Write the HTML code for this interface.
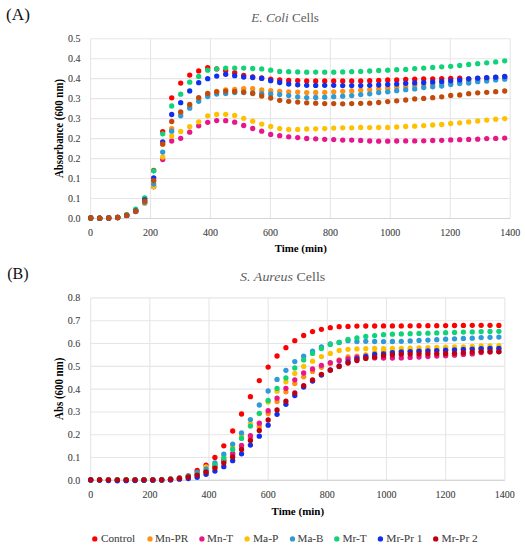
<!DOCTYPE html><html><head><meta charset="utf-8"><style>html,body{margin:0;padding:0;background:#fff;}svg{display:block;}text{font-family:"Liberation Serif",serif;}</style></head><body>
<svg width="525" height="550" viewBox="0 0 525 550">
<rect width="525" height="550" fill="#fff"/>
<text x="6.10" y="20.4" font-size="17" fill="#111" textLength="23.92" lengthAdjust="spacingAndGlyphs" >(A)</text>
<text x="251.32" y="21.8" font-size="12.5" fill="#606060" textLength="67.68" lengthAdjust="spacingAndGlyphs" ><tspan font-style="italic">E. Coli</tspan> Cells</text>
<path d="M90.6 38.70H510.2M90.6 58.68H510.2M90.6 78.66H510.2M90.6 98.64H510.2M90.6 118.62H510.2M90.6 138.60H510.2M90.6 158.58H510.2M90.6 178.56H510.2M90.6 198.54H510.2M90.6 218.52H510.2M90.60 38.70V218.52M150.54 38.70V218.52M210.49 38.70V218.52M270.43 38.70V218.52M330.37 38.70V218.52M390.31 38.70V218.52M450.26 38.70V218.52M510.20 38.70V218.52" stroke="#E6E6E6" stroke-width="1.1" fill="none"/>
<path d="M90.6 218.52H510.2" stroke="#D6D6D6" stroke-width="1.1"/>
<text x="80.6" y="42.1" font-size="10" fill="#404040" stroke="#404040" stroke-width="0.08" text-anchor="end">0.5</text>
<text x="80.6" y="62.1" font-size="10" fill="#404040" stroke="#404040" stroke-width="0.08" text-anchor="end">0.4</text>
<text x="80.6" y="82.1" font-size="10" fill="#404040" stroke="#404040" stroke-width="0.08" text-anchor="end">0.4</text>
<text x="80.6" y="102.0" font-size="10" fill="#404040" stroke="#404040" stroke-width="0.08" text-anchor="end">0.3</text>
<text x="80.6" y="122.0" font-size="10" fill="#404040" stroke="#404040" stroke-width="0.08" text-anchor="end">0.3</text>
<text x="80.6" y="142.0" font-size="10" fill="#404040" stroke="#404040" stroke-width="0.08" text-anchor="end">0.2</text>
<text x="80.6" y="162.0" font-size="10" fill="#404040" stroke="#404040" stroke-width="0.08" text-anchor="end">0.2</text>
<text x="80.6" y="182.0" font-size="10" fill="#404040" stroke="#404040" stroke-width="0.08" text-anchor="end">0.1</text>
<text x="80.6" y="201.9" font-size="10" fill="#404040" stroke="#404040" stroke-width="0.08" text-anchor="end">0.1</text>
<text x="80.6" y="221.9" font-size="10" fill="#404040" stroke="#404040" stroke-width="0.08" text-anchor="end">0.0</text>
<text x="90.6" y="236" font-size="10" fill="#404040" stroke="#404040" stroke-width="0.08" text-anchor="middle">0</text>
<text x="150.5" y="236" font-size="10" fill="#404040" stroke="#404040" stroke-width="0.08" text-anchor="middle">200</text>
<text x="210.5" y="236" font-size="10" fill="#404040" stroke="#404040" stroke-width="0.08" text-anchor="middle">400</text>
<text x="270.4" y="236" font-size="10" fill="#404040" stroke="#404040" stroke-width="0.08" text-anchor="middle">600</text>
<text x="330.4" y="236" font-size="10" fill="#404040" stroke="#404040" stroke-width="0.08" text-anchor="middle">800</text>
<text x="390.3" y="236" font-size="10" fill="#404040" stroke="#404040" stroke-width="0.08" text-anchor="middle">1000</text>
<text x="450.3" y="236" font-size="10" fill="#404040" stroke="#404040" stroke-width="0.08" text-anchor="middle">1200</text>
<text x="510.2" y="236" font-size="10" fill="#404040" stroke="#404040" stroke-width="0.08" text-anchor="middle">1400</text>
<text transform="translate(63.00,178.12) rotate(-90)" x="0" y="0" font-size="11.6" font-weight="bold" fill="#000" textLength="99.12" lengthAdjust="spacingAndGlyphs">Absorbance (600 nm)</text>
<text x="274.66" y="252.0" font-size="11" fill="#000" font-weight="bold" textLength="52.12" lengthAdjust="spacingAndGlyphs" >Time (min)</text>
<g fill="#FF0000"><circle cx="90.70" cy="218.00" r="2.65"/><circle cx="99.70" cy="218.20" r="2.65"/><circle cx="108.70" cy="218.00" r="2.65"/><circle cx="117.70" cy="217.50" r="2.65"/><circle cx="126.70" cy="215.00" r="2.65"/><circle cx="135.70" cy="210.50" r="2.65"/><circle cx="144.70" cy="198.30" r="2.65"/><circle cx="153.70" cy="170.50" r="2.65"/><circle cx="162.70" cy="131.60" r="2.65"/><circle cx="171.70" cy="97.80" r="2.65"/><circle cx="180.70" cy="83.10" r="2.65"/><circle cx="189.70" cy="75.10" r="2.65"/><circle cx="198.70" cy="70.90" r="2.65"/><circle cx="207.70" cy="67.70" r="2.65"/><circle cx="216.70" cy="68.90" r="2.65"/><circle cx="225.70" cy="70.70" r="2.65"/><circle cx="234.70" cy="72.70" r="2.65"/><circle cx="243.70" cy="75.40" r="2.65"/><circle cx="252.70" cy="77.00" r="2.65"/><circle cx="261.70" cy="78.00" r="2.65"/><circle cx="270.70" cy="79.20" r="2.65"/><circle cx="279.70" cy="79.90" r="2.65"/><circle cx="288.70" cy="80.40" r="2.65"/><circle cx="297.70" cy="80.60" r="2.65"/><circle cx="306.70" cy="80.90" r="2.65"/><circle cx="315.70" cy="80.90" r="2.65"/><circle cx="324.70" cy="80.90" r="2.65"/><circle cx="333.70" cy="80.90" r="2.65"/><circle cx="342.70" cy="80.90" r="2.65"/><circle cx="351.70" cy="80.90" r="2.65"/><circle cx="360.70" cy="80.90" r="2.65"/><circle cx="369.70" cy="80.70" r="2.65"/><circle cx="378.70" cy="80.40" r="2.65"/><circle cx="387.70" cy="80.00" r="2.65"/><circle cx="396.70" cy="79.90" r="2.65"/><circle cx="405.70" cy="79.40" r="2.65"/><circle cx="414.70" cy="79.20" r="2.65"/><circle cx="423.70" cy="78.90" r="2.65"/><circle cx="432.70" cy="78.80" r="2.65"/><circle cx="441.70" cy="78.60" r="2.65"/><circle cx="450.70" cy="78.30" r="2.65"/><circle cx="459.70" cy="78.10" r="2.65"/><circle cx="468.70" cy="79.00" r="2.65"/><circle cx="477.70" cy="78.50" r="2.65"/><circle cx="486.70" cy="78.00" r="2.65"/><circle cx="495.70" cy="77.50" r="2.65"/><circle cx="504.70" cy="76.80" r="2.65"/></g>
<g fill="#FF9010"><circle cx="90.70" cy="218.00" r="2.65"/><circle cx="99.70" cy="218.20" r="2.65"/><circle cx="108.70" cy="218.00" r="2.65"/><circle cx="117.70" cy="217.50" r="2.65"/><circle cx="126.70" cy="215.30" r="2.65"/><circle cx="135.70" cy="211.20" r="2.65"/><circle cx="144.70" cy="201.50" r="2.65"/><circle cx="153.70" cy="181.00" r="2.65"/><circle cx="162.70" cy="144.30" r="2.65"/><circle cx="171.70" cy="128.70" r="2.65"/><circle cx="180.70" cy="113.50" r="2.65"/><circle cx="189.70" cy="106.00" r="2.65"/><circle cx="198.70" cy="99.00" r="2.65"/><circle cx="207.70" cy="94.50" r="2.65"/><circle cx="216.70" cy="91.50" r="2.65"/><circle cx="225.70" cy="90.00" r="2.65"/><circle cx="234.70" cy="89.50" r="2.65"/><circle cx="243.70" cy="88.70" r="2.65"/><circle cx="252.70" cy="88.70" r="2.65"/><circle cx="261.70" cy="89.90" r="2.65"/><circle cx="270.70" cy="90.70" r="2.65"/><circle cx="279.70" cy="91.30" r="2.65"/><circle cx="288.70" cy="91.80" r="2.65"/><circle cx="297.70" cy="92.10" r="2.65"/><circle cx="306.70" cy="92.60" r="2.65"/><circle cx="315.70" cy="92.50" r="2.65"/><circle cx="324.70" cy="92.30" r="2.65"/><circle cx="333.70" cy="91.80" r="2.65"/><circle cx="342.70" cy="91.30" r="2.65"/><circle cx="351.70" cy="91.00" r="2.65"/><circle cx="360.70" cy="90.20" r="2.65"/><circle cx="369.70" cy="89.80" r="2.65"/><circle cx="378.70" cy="89.00" r="2.65"/><circle cx="387.70" cy="88.20" r="2.65"/><circle cx="396.70" cy="87.20" r="2.65"/><circle cx="405.70" cy="86.40" r="2.65"/><circle cx="414.70" cy="85.70" r="2.65"/><circle cx="423.70" cy="85.00" r="2.65"/><circle cx="432.70" cy="84.30" r="2.65"/><circle cx="441.70" cy="83.80" r="2.65"/><circle cx="450.70" cy="83.20" r="2.65"/><circle cx="459.70" cy="82.50" r="2.65"/><circle cx="468.70" cy="81.20" r="2.65"/><circle cx="477.70" cy="80.20" r="2.65"/><circle cx="486.70" cy="79.50" r="2.65"/><circle cx="495.70" cy="78.80" r="2.65"/><circle cx="504.70" cy="78.00" r="2.65"/></g>
<g fill="#E8168B"><circle cx="90.70" cy="218.00" r="2.65"/><circle cx="99.70" cy="218.20" r="2.65"/><circle cx="108.70" cy="218.00" r="2.65"/><circle cx="117.70" cy="217.50" r="2.65"/><circle cx="126.70" cy="215.60" r="2.65"/><circle cx="135.70" cy="211.60" r="2.65"/><circle cx="144.70" cy="203.10" r="2.65"/><circle cx="153.70" cy="186.80" r="2.65"/><circle cx="162.70" cy="159.50" r="2.65"/><circle cx="171.70" cy="141.00" r="2.65"/><circle cx="180.70" cy="138.30" r="2.65"/><circle cx="189.70" cy="132.20" r="2.65"/><circle cx="198.70" cy="125.80" r="2.65"/><circle cx="207.70" cy="122.30" r="2.65"/><circle cx="216.70" cy="120.60" r="2.65"/><circle cx="225.70" cy="120.70" r="2.65"/><circle cx="234.70" cy="122.20" r="2.65"/><circle cx="243.70" cy="125.50" r="2.65"/><circle cx="252.70" cy="128.50" r="2.65"/><circle cx="261.70" cy="131.20" r="2.65"/><circle cx="270.70" cy="134.40" r="2.65"/><circle cx="279.70" cy="135.70" r="2.65"/><circle cx="288.70" cy="136.80" r="2.65"/><circle cx="297.70" cy="137.60" r="2.65"/><circle cx="306.70" cy="138.50" r="2.65"/><circle cx="315.70" cy="138.80" r="2.65"/><circle cx="324.70" cy="139.30" r="2.65"/><circle cx="333.70" cy="139.60" r="2.65"/><circle cx="342.70" cy="140.10" r="2.65"/><circle cx="351.70" cy="140.10" r="2.65"/><circle cx="360.70" cy="140.40" r="2.65"/><circle cx="369.70" cy="141.00" r="2.65"/><circle cx="378.70" cy="141.20" r="2.65"/><circle cx="387.70" cy="141.20" r="2.65"/><circle cx="396.70" cy="141.00" r="2.65"/><circle cx="405.70" cy="140.90" r="2.65"/><circle cx="414.70" cy="140.90" r="2.65"/><circle cx="423.70" cy="140.80" r="2.65"/><circle cx="432.70" cy="140.50" r="2.65"/><circle cx="441.70" cy="140.30" r="2.65"/><circle cx="450.70" cy="139.90" r="2.65"/><circle cx="459.70" cy="139.70" r="2.65"/><circle cx="468.70" cy="139.40" r="2.65"/><circle cx="477.70" cy="139.20" r="2.65"/><circle cx="486.70" cy="138.60" r="2.65"/><circle cx="495.70" cy="138.40" r="2.65"/><circle cx="504.70" cy="138.10" r="2.65"/></g>
<g fill="#FFC000"><circle cx="90.70" cy="218.00" r="2.65"/><circle cx="99.70" cy="218.20" r="2.65"/><circle cx="108.70" cy="218.00" r="2.65"/><circle cx="117.70" cy="217.50" r="2.65"/><circle cx="126.70" cy="215.50" r="2.65"/><circle cx="135.70" cy="211.50" r="2.65"/><circle cx="144.70" cy="203.30" r="2.65"/><circle cx="153.70" cy="186.50" r="2.65"/><circle cx="162.70" cy="157.00" r="2.65"/><circle cx="171.70" cy="136.00" r="2.65"/><circle cx="180.70" cy="131.40" r="2.65"/><circle cx="189.70" cy="126.70" r="2.65"/><circle cx="198.70" cy="121.80" r="2.65"/><circle cx="207.70" cy="115.80" r="2.65"/><circle cx="216.70" cy="114.40" r="2.65"/><circle cx="225.70" cy="114.30" r="2.65"/><circle cx="234.70" cy="115.40" r="2.65"/><circle cx="243.70" cy="118.30" r="2.65"/><circle cx="252.70" cy="121.20" r="2.65"/><circle cx="261.70" cy="124.10" r="2.65"/><circle cx="270.70" cy="126.50" r="2.65"/><circle cx="279.70" cy="128.60" r="2.65"/><circle cx="288.70" cy="129.50" r="2.65"/><circle cx="297.70" cy="129.50" r="2.65"/><circle cx="306.70" cy="129.00" r="2.65"/><circle cx="315.70" cy="128.80" r="2.65"/><circle cx="324.70" cy="128.60" r="2.65"/><circle cx="333.70" cy="128.10" r="2.65"/><circle cx="342.70" cy="127.80" r="2.65"/><circle cx="351.70" cy="127.80" r="2.65"/><circle cx="360.70" cy="127.50" r="2.65"/><circle cx="369.70" cy="127.60" r="2.65"/><circle cx="378.70" cy="127.50" r="2.65"/><circle cx="387.70" cy="127.50" r="2.65"/><circle cx="396.70" cy="127.00" r="2.65"/><circle cx="405.70" cy="126.50" r="2.65"/><circle cx="414.70" cy="126.20" r="2.65"/><circle cx="423.70" cy="125.60" r="2.65"/><circle cx="432.70" cy="125.00" r="2.65"/><circle cx="441.70" cy="124.50" r="2.65"/><circle cx="450.70" cy="123.50" r="2.65"/><circle cx="459.70" cy="122.80" r="2.65"/><circle cx="468.70" cy="121.90" r="2.65"/><circle cx="477.70" cy="121.00" r="2.65"/><circle cx="486.70" cy="120.10" r="2.65"/><circle cx="495.70" cy="119.20" r="2.65"/><circle cx="504.70" cy="118.60" r="2.65"/></g>
<g fill="#2E9BD6"><circle cx="90.70" cy="218.00" r="2.65"/><circle cx="99.70" cy="218.20" r="2.65"/><circle cx="108.70" cy="218.00" r="2.65"/><circle cx="117.70" cy="217.50" r="2.65"/><circle cx="126.70" cy="215.40" r="2.65"/><circle cx="135.70" cy="211.40" r="2.65"/><circle cx="144.70" cy="202.50" r="2.65"/><circle cx="153.70" cy="184.10" r="2.65"/><circle cx="162.70" cy="152.10" r="2.65"/><circle cx="171.70" cy="131.20" r="2.65"/><circle cx="180.70" cy="115.80" r="2.65"/><circle cx="189.70" cy="108.20" r="2.65"/><circle cx="198.70" cy="101.30" r="2.65"/><circle cx="207.70" cy="96.50" r="2.65"/><circle cx="216.70" cy="94.00" r="2.65"/><circle cx="225.70" cy="93.50" r="2.65"/><circle cx="234.70" cy="92.50" r="2.65"/><circle cx="243.70" cy="92.50" r="2.65"/><circle cx="252.70" cy="93.00" r="2.65"/><circle cx="261.70" cy="93.70" r="2.65"/><circle cx="270.70" cy="94.00" r="2.65"/><circle cx="279.70" cy="94.60" r="2.65"/><circle cx="288.70" cy="95.60" r="2.65"/><circle cx="297.70" cy="96.80" r="2.65"/><circle cx="306.70" cy="97.60" r="2.65"/><circle cx="315.70" cy="97.50" r="2.65"/><circle cx="324.70" cy="97.20" r="2.65"/><circle cx="333.70" cy="96.70" r="2.65"/><circle cx="342.70" cy="96.20" r="2.65"/><circle cx="351.70" cy="95.60" r="2.65"/><circle cx="360.70" cy="94.60" r="2.65"/><circle cx="369.70" cy="93.80" r="2.65"/><circle cx="378.70" cy="92.60" r="2.65"/><circle cx="387.70" cy="91.80" r="2.65"/><circle cx="396.70" cy="90.70" r="2.65"/><circle cx="405.70" cy="89.70" r="2.65"/><circle cx="414.70" cy="88.90" r="2.65"/><circle cx="423.70" cy="87.60" r="2.65"/><circle cx="432.70" cy="86.80" r="2.65"/><circle cx="441.70" cy="86.00" r="2.65"/><circle cx="450.70" cy="84.60" r="2.65"/><circle cx="459.70" cy="83.50" r="2.65"/><circle cx="468.70" cy="83.00" r="2.65"/><circle cx="477.70" cy="81.70" r="2.65"/><circle cx="486.70" cy="81.00" r="2.65"/><circle cx="495.70" cy="79.90" r="2.65"/><circle cx="504.70" cy="79.20" r="2.65"/></g>
<g fill="#10D27A"><circle cx="90.70" cy="218.00" r="2.65"/><circle cx="99.70" cy="218.20" r="2.65"/><circle cx="108.70" cy="218.00" r="2.65"/><circle cx="117.70" cy="217.50" r="2.65"/><circle cx="126.70" cy="214.60" r="2.65"/><circle cx="135.70" cy="209.20" r="2.65"/><circle cx="144.70" cy="197.90" r="2.65"/><circle cx="153.70" cy="170.80" r="2.65"/><circle cx="162.70" cy="133.80" r="2.65"/><circle cx="171.70" cy="106.00" r="2.65"/><circle cx="180.70" cy="94.20" r="2.65"/><circle cx="189.70" cy="82.20" r="2.65"/><circle cx="198.70" cy="76.40" r="2.65"/><circle cx="207.70" cy="70.20" r="2.65"/><circle cx="216.70" cy="68.80" r="2.65"/><circle cx="225.70" cy="68.10" r="2.65"/><circle cx="234.70" cy="68.10" r="2.65"/><circle cx="243.70" cy="68.10" r="2.65"/><circle cx="252.70" cy="68.50" r="2.65"/><circle cx="261.70" cy="68.90" r="2.65"/><circle cx="270.70" cy="70.20" r="2.65"/><circle cx="279.70" cy="71.40" r="2.65"/><circle cx="288.70" cy="71.70" r="2.65"/><circle cx="297.70" cy="71.90" r="2.65"/><circle cx="306.70" cy="72.20" r="2.65"/><circle cx="315.70" cy="72.10" r="2.65"/><circle cx="324.70" cy="72.20" r="2.65"/><circle cx="333.70" cy="72.20" r="2.65"/><circle cx="342.70" cy="71.90" r="2.65"/><circle cx="351.70" cy="71.70" r="2.65"/><circle cx="360.70" cy="71.40" r="2.65"/><circle cx="369.70" cy="71.00" r="2.65"/><circle cx="378.70" cy="70.50" r="2.65"/><circle cx="387.70" cy="70.20" r="2.65"/><circle cx="396.70" cy="69.70" r="2.65"/><circle cx="405.70" cy="69.40" r="2.65"/><circle cx="414.70" cy="68.60" r="2.65"/><circle cx="423.70" cy="68.10" r="2.65"/><circle cx="432.70" cy="67.40" r="2.65"/><circle cx="441.70" cy="66.80" r="2.65"/><circle cx="450.70" cy="66.30" r="2.65"/><circle cx="459.70" cy="65.50" r="2.65"/><circle cx="468.70" cy="64.50" r="2.65"/><circle cx="477.70" cy="63.70" r="2.65"/><circle cx="486.70" cy="62.80" r="2.65"/><circle cx="495.70" cy="61.90" r="2.65"/><circle cx="504.70" cy="60.80" r="2.65"/></g>
<g fill="#0F2FF0"><circle cx="90.70" cy="218.00" r="2.65"/><circle cx="99.70" cy="218.20" r="2.65"/><circle cx="108.70" cy="218.00" r="2.65"/><circle cx="117.70" cy="217.50" r="2.65"/><circle cx="126.70" cy="215.40" r="2.65"/><circle cx="135.70" cy="210.80" r="2.65"/><circle cx="144.70" cy="200.00" r="2.65"/><circle cx="153.70" cy="177.80" r="2.65"/><circle cx="162.70" cy="141.80" r="2.65"/><circle cx="171.70" cy="114.50" r="2.65"/><circle cx="180.70" cy="102.70" r="2.65"/><circle cx="189.70" cy="90.90" r="2.65"/><circle cx="198.70" cy="82.70" r="2.65"/><circle cx="207.70" cy="78.70" r="2.65"/><circle cx="216.70" cy="76.10" r="2.65"/><circle cx="225.70" cy="74.30" r="2.65"/><circle cx="234.70" cy="75.70" r="2.65"/><circle cx="243.70" cy="77.10" r="2.65"/><circle cx="252.70" cy="77.50" r="2.65"/><circle cx="261.70" cy="78.40" r="2.65"/><circle cx="270.70" cy="80.70" r="2.65"/><circle cx="279.70" cy="82.50" r="2.65"/><circle cx="288.70" cy="84.00" r="2.65"/><circle cx="297.70" cy="84.80" r="2.65"/><circle cx="306.70" cy="85.30" r="2.65"/><circle cx="315.70" cy="85.40" r="2.65"/><circle cx="324.70" cy="85.30" r="2.65"/><circle cx="333.70" cy="85.30" r="2.65"/><circle cx="342.70" cy="85.60" r="2.65"/><circle cx="351.70" cy="85.60" r="2.65"/><circle cx="360.70" cy="85.60" r="2.65"/><circle cx="369.70" cy="85.30" r="2.65"/><circle cx="378.70" cy="85.00" r="2.65"/><circle cx="387.70" cy="84.50" r="2.65"/><circle cx="396.70" cy="84.10" r="2.65"/><circle cx="405.70" cy="83.30" r="2.65"/><circle cx="414.70" cy="82.90" r="2.65"/><circle cx="423.70" cy="82.60" r="2.65"/><circle cx="432.70" cy="81.90" r="2.65"/><circle cx="441.70" cy="81.40" r="2.65"/><circle cx="450.70" cy="80.80" r="2.65"/><circle cx="459.70" cy="79.90" r="2.65"/><circle cx="468.70" cy="78.80" r="2.65"/><circle cx="477.70" cy="78.20" r="2.65"/><circle cx="486.70" cy="77.70" r="2.65"/><circle cx="495.70" cy="77.20" r="2.65"/><circle cx="504.70" cy="76.50" r="2.65"/></g>
<g fill="#C24B0C"><circle cx="90.70" cy="218.00" r="2.65"/><circle cx="99.70" cy="218.20" r="2.65"/><circle cx="108.70" cy="218.00" r="2.65"/><circle cx="117.70" cy="217.50" r="2.65"/><circle cx="126.70" cy="215.40" r="2.65"/><circle cx="135.70" cy="211.20" r="2.65"/><circle cx="144.70" cy="201.20" r="2.65"/><circle cx="153.70" cy="180.60" r="2.65"/><circle cx="162.70" cy="143.90" r="2.65"/><circle cx="171.70" cy="121.50" r="2.65"/><circle cx="180.70" cy="111.80" r="2.65"/><circle cx="189.70" cy="104.50" r="2.65"/><circle cx="198.70" cy="97.60" r="2.65"/><circle cx="207.70" cy="93.40" r="2.65"/><circle cx="216.70" cy="91.80" r="2.65"/><circle cx="225.70" cy="91.10" r="2.65"/><circle cx="234.70" cy="91.40" r="2.65"/><circle cx="243.70" cy="92.10" r="2.65"/><circle cx="252.70" cy="93.50" r="2.65"/><circle cx="261.70" cy="96.00" r="2.65"/><circle cx="270.70" cy="98.00" r="2.65"/><circle cx="279.70" cy="100.30" r="2.65"/><circle cx="288.70" cy="101.30" r="2.65"/><circle cx="297.70" cy="102.10" r="2.65"/><circle cx="306.70" cy="102.80" r="2.65"/><circle cx="315.70" cy="103.20" r="2.65"/><circle cx="324.70" cy="103.60" r="2.65"/><circle cx="333.70" cy="103.60" r="2.65"/><circle cx="342.70" cy="103.80" r="2.65"/><circle cx="351.70" cy="103.60" r="2.65"/><circle cx="360.70" cy="103.30" r="2.65"/><circle cx="369.70" cy="103.20" r="2.65"/><circle cx="378.70" cy="102.50" r="2.65"/><circle cx="387.70" cy="101.60" r="2.65"/><circle cx="396.70" cy="100.80" r="2.65"/><circle cx="405.70" cy="100.00" r="2.65"/><circle cx="414.70" cy="98.90" r="2.65"/><circle cx="423.70" cy="98.40" r="2.65"/><circle cx="432.70" cy="97.70" r="2.65"/><circle cx="441.70" cy="96.80" r="2.65"/><circle cx="450.70" cy="95.50" r="2.65"/><circle cx="459.70" cy="95.00" r="2.65"/><circle cx="468.70" cy="93.70" r="2.65"/><circle cx="477.70" cy="92.80" r="2.65"/><circle cx="486.70" cy="92.30" r="2.65"/><circle cx="495.70" cy="91.70" r="2.65"/><circle cx="504.70" cy="91.00" r="2.65"/></g>
<text x="7.16" y="278.5" font-size="16.5" fill="#111" textLength="21.42" lengthAdjust="spacingAndGlyphs" >(B)</text>
<text x="240.10" y="280.9" font-size="12.3" fill="#606060" textLength="85.14" lengthAdjust="spacingAndGlyphs" ><tspan font-style="italic">S. Aureus</tspan> Cells</text>
<path d="M90.7 297.90H504.8M90.7 320.71H504.8M90.7 343.52H504.8M90.7 366.33H504.8M90.7 389.14H504.8M90.7 411.95H504.8M90.7 434.76H504.8M90.7 457.57H504.8M90.7 480.38H504.8M90.70 297.90V480.38M149.86 297.90V480.38M209.01 297.90V480.38M268.17 297.90V480.38M327.33 297.90V480.38M386.49 297.90V480.38M445.64 297.90V480.38M504.80 297.90V480.38" stroke="#E6E6E6" stroke-width="1.1" fill="none"/>
<path d="M90.7 480.38H504.8" stroke="#D6D6D6" stroke-width="1.1"/>
<text x="80.3" y="301.3" font-size="10" fill="#404040" stroke="#404040" stroke-width="0.08" text-anchor="end">0.8</text>
<text x="80.3" y="324.1" font-size="10" fill="#404040" stroke="#404040" stroke-width="0.08" text-anchor="end">0.7</text>
<text x="80.3" y="346.9" font-size="10" fill="#404040" stroke="#404040" stroke-width="0.08" text-anchor="end">0.6</text>
<text x="80.3" y="369.7" font-size="10" fill="#404040" stroke="#404040" stroke-width="0.08" text-anchor="end">0.5</text>
<text x="80.3" y="392.5" font-size="10" fill="#404040" stroke="#404040" stroke-width="0.08" text-anchor="end">0.4</text>
<text x="80.3" y="415.3" font-size="10" fill="#404040" stroke="#404040" stroke-width="0.08" text-anchor="end">0.3</text>
<text x="80.3" y="438.2" font-size="10" fill="#404040" stroke="#404040" stroke-width="0.08" text-anchor="end">0.2</text>
<text x="80.3" y="461.0" font-size="10" fill="#404040" stroke="#404040" stroke-width="0.08" text-anchor="end">0.1</text>
<text x="80.3" y="483.8" font-size="10" fill="#404040" stroke="#404040" stroke-width="0.08" text-anchor="end">0.0</text>
<text x="90.7" y="497.8" font-size="10" fill="#404040" stroke="#404040" stroke-width="0.08" text-anchor="middle">0</text>
<text x="149.9" y="497.8" font-size="10" fill="#404040" stroke="#404040" stroke-width="0.08" text-anchor="middle">200</text>
<text x="209.0" y="497.8" font-size="10" fill="#404040" stroke="#404040" stroke-width="0.08" text-anchor="middle">400</text>
<text x="268.2" y="497.8" font-size="10" fill="#404040" stroke="#404040" stroke-width="0.08" text-anchor="middle">600</text>
<text x="327.3" y="497.8" font-size="10" fill="#404040" stroke="#404040" stroke-width="0.08" text-anchor="middle">800</text>
<text x="386.5" y="497.8" font-size="10" fill="#404040" stroke="#404040" stroke-width="0.08" text-anchor="middle">1000</text>
<text x="445.6" y="497.8" font-size="10" fill="#404040" stroke="#404040" stroke-width="0.08" text-anchor="middle">1200</text>
<text x="504.8" y="497.8" font-size="10" fill="#404040" stroke="#404040" stroke-width="0.08" text-anchor="middle">1400</text>
<text transform="translate(62.70,419.90) rotate(-90)" x="0" y="0" font-size="11.6" font-weight="bold" fill="#000" textLength="62.24" lengthAdjust="spacingAndGlyphs">Abs (600 nm)</text>
<text x="271.56" y="514.8" font-size="11" fill="#000" font-weight="bold" textLength="52.56" lengthAdjust="spacingAndGlyphs" >Time (min)</text>
<g fill="#FF0000"><circle cx="90.70" cy="479.80" r="2.65"/><circle cx="99.57" cy="479.80" r="2.65"/><circle cx="108.45" cy="479.80" r="2.65"/><circle cx="117.32" cy="479.80" r="2.65"/><circle cx="126.19" cy="479.80" r="2.65"/><circle cx="135.07" cy="479.80" r="2.65"/><circle cx="143.94" cy="479.80" r="2.65"/><circle cx="152.81" cy="479.80" r="2.65"/><circle cx="161.69" cy="479.80" r="2.65"/><circle cx="170.56" cy="479.00" r="2.65"/><circle cx="179.44" cy="478.00" r="2.65"/><circle cx="188.31" cy="476.00" r="2.65"/><circle cx="197.18" cy="470.50" r="2.65"/><circle cx="206.06" cy="465.10" r="2.65"/><circle cx="214.93" cy="457.50" r="2.65"/><circle cx="223.80" cy="445.80" r="2.65"/><circle cx="232.68" cy="431.00" r="2.65"/><circle cx="241.55" cy="414.00" r="2.65"/><circle cx="250.42" cy="396.70" r="2.65"/><circle cx="259.30" cy="380.60" r="2.65"/><circle cx="268.17" cy="367.10" r="2.65"/><circle cx="277.05" cy="356.00" r="2.65"/><circle cx="285.92" cy="347.70" r="2.65"/><circle cx="294.79" cy="340.70" r="2.65"/><circle cx="303.67" cy="335.50" r="2.65"/><circle cx="312.54" cy="331.60" r="2.65"/><circle cx="321.41" cy="329.30" r="2.65"/><circle cx="330.29" cy="327.70" r="2.65"/><circle cx="339.16" cy="326.70" r="2.65"/><circle cx="348.03" cy="326.40" r="2.65"/><circle cx="356.91" cy="326.10" r="2.65"/><circle cx="365.78" cy="326.00" r="2.65"/><circle cx="374.65" cy="325.98" r="2.65"/><circle cx="383.53" cy="325.95" r="2.65"/><circle cx="392.40" cy="325.92" r="2.65"/><circle cx="401.28" cy="325.90" r="2.65"/><circle cx="410.15" cy="325.83" r="2.65"/><circle cx="419.02" cy="325.77" r="2.65"/><circle cx="427.90" cy="325.70" r="2.65"/><circle cx="436.77" cy="325.63" r="2.65"/><circle cx="445.64" cy="325.57" r="2.65"/><circle cx="454.52" cy="325.50" r="2.65"/><circle cx="463.39" cy="325.43" r="2.65"/><circle cx="472.26" cy="325.37" r="2.65"/><circle cx="481.14" cy="325.30" r="2.65"/><circle cx="490.01" cy="325.35" r="2.65"/><circle cx="498.88" cy="325.40" r="2.65"/></g>
<g fill="#FF9010"><circle cx="90.70" cy="480.00" r="2.65"/><circle cx="99.57" cy="480.00" r="2.65"/><circle cx="108.45" cy="480.00" r="2.65"/><circle cx="117.32" cy="480.00" r="2.65"/><circle cx="126.19" cy="480.00" r="2.65"/><circle cx="135.07" cy="480.00" r="2.65"/><circle cx="143.94" cy="480.00" r="2.65"/><circle cx="152.81" cy="480.00" r="2.65"/><circle cx="161.69" cy="480.00" r="2.65"/><circle cx="170.56" cy="479.30" r="2.65"/><circle cx="179.44" cy="478.50" r="2.65"/><circle cx="188.31" cy="477.00" r="2.65"/><circle cx="197.18" cy="475.00" r="2.65"/><circle cx="206.06" cy="472.00" r="2.65"/><circle cx="214.93" cy="467.00" r="2.65"/><circle cx="223.80" cy="461.50" r="2.65"/><circle cx="232.68" cy="455.00" r="2.65"/><circle cx="241.55" cy="447.00" r="2.65"/><circle cx="250.42" cy="437.50" r="2.65"/><circle cx="259.30" cy="426.40" r="2.65"/><circle cx="268.17" cy="413.50" r="2.65"/><circle cx="277.05" cy="401.60" r="2.65"/><circle cx="285.92" cy="391.80" r="2.65"/><circle cx="294.79" cy="383.50" r="2.65"/><circle cx="303.67" cy="376.80" r="2.65"/><circle cx="312.54" cy="371.40" r="2.65"/><circle cx="321.41" cy="367.30" r="2.65"/><circle cx="330.29" cy="363.50" r="2.65"/><circle cx="339.16" cy="360.00" r="2.65"/><circle cx="348.03" cy="357.00" r="2.65"/><circle cx="356.91" cy="356.10" r="2.65"/><circle cx="365.78" cy="355.00" r="2.65"/><circle cx="374.65" cy="353.00" r="2.65"/><circle cx="383.53" cy="352.00" r="2.65"/><circle cx="392.40" cy="351.50" r="2.65"/><circle cx="401.28" cy="351.00" r="2.65"/><circle cx="410.15" cy="350.67" r="2.65"/><circle cx="419.02" cy="350.33" r="2.65"/><circle cx="427.90" cy="350.00" r="2.65"/><circle cx="436.77" cy="349.67" r="2.65"/><circle cx="445.64" cy="349.33" r="2.65"/><circle cx="454.52" cy="349.00" r="2.65"/><circle cx="463.39" cy="348.80" r="2.65"/><circle cx="472.26" cy="348.60" r="2.65"/><circle cx="481.14" cy="348.40" r="2.65"/><circle cx="490.01" cy="348.20" r="2.65"/><circle cx="498.88" cy="348.00" r="2.65"/></g>
<g fill="#E8168B"><circle cx="90.70" cy="480.00" r="2.65"/><circle cx="99.57" cy="480.00" r="2.65"/><circle cx="108.45" cy="480.00" r="2.65"/><circle cx="117.32" cy="480.00" r="2.65"/><circle cx="126.19" cy="480.00" r="2.65"/><circle cx="135.07" cy="480.00" r="2.65"/><circle cx="143.94" cy="480.00" r="2.65"/><circle cx="152.81" cy="480.00" r="2.65"/><circle cx="161.69" cy="480.00" r="2.65"/><circle cx="170.56" cy="479.30" r="2.65"/><circle cx="179.44" cy="478.40" r="2.65"/><circle cx="188.31" cy="477.00" r="2.65"/><circle cx="197.18" cy="474.80" r="2.65"/><circle cx="206.06" cy="471.50" r="2.65"/><circle cx="214.93" cy="466.00" r="2.65"/><circle cx="223.80" cy="460.50" r="2.65"/><circle cx="232.68" cy="453.50" r="2.65"/><circle cx="241.55" cy="445.40" r="2.65"/><circle cx="250.42" cy="435.70" r="2.65"/><circle cx="259.30" cy="423.20" r="2.65"/><circle cx="268.17" cy="410.70" r="2.65"/><circle cx="277.05" cy="398.20" r="2.65"/><circle cx="285.92" cy="388.30" r="2.65"/><circle cx="294.79" cy="379.80" r="2.65"/><circle cx="303.67" cy="373.00" r="2.65"/><circle cx="312.54" cy="368.90" r="2.65"/><circle cx="321.41" cy="365.30" r="2.65"/><circle cx="330.29" cy="362.70" r="2.65"/><circle cx="339.16" cy="360.70" r="2.65"/><circle cx="348.03" cy="359.00" r="2.65"/><circle cx="356.91" cy="357.50" r="2.65"/><circle cx="365.78" cy="357.50" r="2.65"/><circle cx="374.65" cy="357.90" r="2.65"/><circle cx="383.53" cy="358.10" r="2.65"/><circle cx="392.40" cy="358.10" r="2.65"/><circle cx="401.28" cy="357.90" r="2.65"/><circle cx="410.15" cy="357.45" r="2.65"/><circle cx="419.02" cy="357.00" r="2.65"/><circle cx="427.90" cy="356.55" r="2.65"/><circle cx="436.77" cy="356.10" r="2.65"/><circle cx="445.64" cy="355.65" r="2.65"/><circle cx="454.52" cy="355.20" r="2.65"/><circle cx="463.39" cy="354.40" r="2.65"/><circle cx="472.26" cy="353.90" r="2.65"/><circle cx="481.14" cy="352.50" r="2.65"/><circle cx="490.01" cy="352.00" r="2.65"/><circle cx="498.88" cy="351.80" r="2.65"/></g>
<g fill="#FFC000"><circle cx="90.70" cy="480.00" r="2.65"/><circle cx="99.57" cy="480.00" r="2.65"/><circle cx="108.45" cy="480.00" r="2.65"/><circle cx="117.32" cy="480.00" r="2.65"/><circle cx="126.19" cy="480.00" r="2.65"/><circle cx="135.07" cy="480.00" r="2.65"/><circle cx="143.94" cy="480.00" r="2.65"/><circle cx="152.81" cy="480.00" r="2.65"/><circle cx="161.69" cy="480.00" r="2.65"/><circle cx="170.56" cy="479.30" r="2.65"/><circle cx="179.44" cy="478.30" r="2.65"/><circle cx="188.31" cy="476.80" r="2.65"/><circle cx="197.18" cy="473.00" r="2.65"/><circle cx="206.06" cy="467.00" r="2.65"/><circle cx="214.93" cy="463.80" r="2.65"/><circle cx="223.80" cy="456.20" r="2.65"/><circle cx="232.68" cy="446.80" r="2.65"/><circle cx="241.55" cy="435.90" r="2.65"/><circle cx="250.42" cy="423.60" r="2.65"/><circle cx="259.30" cy="413.60" r="2.65"/><circle cx="268.17" cy="402.00" r="2.65"/><circle cx="277.05" cy="391.20" r="2.65"/><circle cx="285.92" cy="381.80" r="2.65"/><circle cx="294.79" cy="373.40" r="2.65"/><circle cx="303.67" cy="366.40" r="2.65"/><circle cx="312.54" cy="361.20" r="2.65"/><circle cx="321.41" cy="356.60" r="2.65"/><circle cx="330.29" cy="353.40" r="2.65"/><circle cx="339.16" cy="350.40" r="2.65"/><circle cx="348.03" cy="349.30" r="2.65"/><circle cx="356.91" cy="348.90" r="2.65"/><circle cx="365.78" cy="348.70" r="2.65"/><circle cx="374.65" cy="348.50" r="2.65"/><circle cx="383.53" cy="348.70" r="2.65"/><circle cx="392.40" cy="348.50" r="2.65"/><circle cx="401.28" cy="348.50" r="2.65"/><circle cx="410.15" cy="348.25" r="2.65"/><circle cx="419.02" cy="348.00" r="2.65"/><circle cx="427.90" cy="347.75" r="2.65"/><circle cx="436.77" cy="347.50" r="2.65"/><circle cx="445.64" cy="347.25" r="2.65"/><circle cx="454.52" cy="347.00" r="2.65"/><circle cx="463.39" cy="346.80" r="2.65"/><circle cx="472.26" cy="346.40" r="2.65"/><circle cx="481.14" cy="345.90" r="2.65"/><circle cx="490.01" cy="345.80" r="2.65"/><circle cx="498.88" cy="345.60" r="2.65"/></g>
<g fill="#2E9BD6"><circle cx="90.70" cy="480.00" r="2.65"/><circle cx="99.57" cy="480.00" r="2.65"/><circle cx="108.45" cy="480.00" r="2.65"/><circle cx="117.32" cy="480.00" r="2.65"/><circle cx="126.19" cy="480.00" r="2.65"/><circle cx="135.07" cy="480.00" r="2.65"/><circle cx="143.94" cy="480.00" r="2.65"/><circle cx="152.81" cy="480.00" r="2.65"/><circle cx="161.69" cy="480.00" r="2.65"/><circle cx="170.56" cy="479.20" r="2.65"/><circle cx="179.44" cy="478.20" r="2.65"/><circle cx="188.31" cy="476.00" r="2.65"/><circle cx="197.18" cy="472.30" r="2.65"/><circle cx="206.06" cy="468.90" r="2.65"/><circle cx="214.93" cy="462.90" r="2.65"/><circle cx="223.80" cy="454.10" r="2.65"/><circle cx="232.68" cy="444.10" r="2.65"/><circle cx="241.55" cy="432.90" r="2.65"/><circle cx="250.42" cy="419.60" r="2.65"/><circle cx="259.30" cy="405.00" r="2.65"/><circle cx="268.17" cy="391.00" r="2.65"/><circle cx="277.05" cy="379.40" r="2.65"/><circle cx="285.92" cy="370.30" r="2.65"/><circle cx="294.79" cy="361.60" r="2.65"/><circle cx="303.67" cy="356.20" r="2.65"/><circle cx="312.54" cy="351.20" r="2.65"/><circle cx="321.41" cy="346.80" r="2.65"/><circle cx="330.29" cy="344.00" r="2.65"/><circle cx="339.16" cy="342.50" r="2.65"/><circle cx="348.03" cy="340.70" r="2.65"/><circle cx="356.91" cy="341.50" r="2.65"/><circle cx="365.78" cy="341.30" r="2.65"/><circle cx="374.65" cy="341.50" r="2.65"/><circle cx="383.53" cy="341.60" r="2.65"/><circle cx="392.40" cy="341.50" r="2.65"/><circle cx="401.28" cy="341.30" r="2.65"/><circle cx="410.15" cy="340.88" r="2.65"/><circle cx="419.02" cy="340.47" r="2.65"/><circle cx="427.90" cy="340.05" r="2.65"/><circle cx="436.77" cy="339.63" r="2.65"/><circle cx="445.64" cy="339.22" r="2.65"/><circle cx="454.52" cy="338.80" r="2.65"/><circle cx="463.39" cy="338.40" r="2.65"/><circle cx="472.26" cy="338.20" r="2.65"/><circle cx="481.14" cy="337.60" r="2.65"/><circle cx="490.01" cy="337.30" r="2.65"/><circle cx="498.88" cy="337.10" r="2.65"/></g>
<g fill="#10D27A"><circle cx="90.70" cy="480.00" r="2.65"/><circle cx="99.57" cy="480.00" r="2.65"/><circle cx="108.45" cy="480.00" r="2.65"/><circle cx="117.32" cy="480.00" r="2.65"/><circle cx="126.19" cy="480.00" r="2.65"/><circle cx="135.07" cy="480.00" r="2.65"/><circle cx="143.94" cy="480.00" r="2.65"/><circle cx="152.81" cy="480.00" r="2.65"/><circle cx="161.69" cy="480.00" r="2.65"/><circle cx="170.56" cy="479.30" r="2.65"/><circle cx="179.44" cy="478.40" r="2.65"/><circle cx="188.31" cy="477.00" r="2.65"/><circle cx="197.18" cy="474.80" r="2.65"/><circle cx="206.06" cy="471.50" r="2.65"/><circle cx="214.93" cy="465.00" r="2.65"/><circle cx="223.80" cy="458.40" r="2.65"/><circle cx="232.68" cy="449.50" r="2.65"/><circle cx="241.55" cy="438.40" r="2.65"/><circle cx="250.42" cy="426.10" r="2.65"/><circle cx="259.30" cy="413.30" r="2.65"/><circle cx="268.17" cy="400.50" r="2.65"/><circle cx="277.05" cy="388.40" r="2.65"/><circle cx="285.92" cy="377.90" r="2.65"/><circle cx="294.79" cy="367.90" r="2.65"/><circle cx="303.67" cy="359.90" r="2.65"/><circle cx="312.54" cy="353.40" r="2.65"/><circle cx="321.41" cy="348.50" r="2.65"/><circle cx="330.29" cy="344.40" r="2.65"/><circle cx="339.16" cy="342.40" r="2.65"/><circle cx="348.03" cy="339.30" r="2.65"/><circle cx="356.91" cy="337.90" r="2.65"/><circle cx="365.78" cy="336.40" r="2.65"/><circle cx="374.65" cy="335.60" r="2.65"/><circle cx="383.53" cy="334.70" r="2.65"/><circle cx="392.40" cy="334.20" r="2.65"/><circle cx="401.28" cy="333.90" r="2.65"/><circle cx="410.15" cy="333.65" r="2.65"/><circle cx="419.02" cy="333.40" r="2.65"/><circle cx="427.90" cy="333.15" r="2.65"/><circle cx="436.77" cy="332.90" r="2.65"/><circle cx="445.64" cy="332.65" r="2.65"/><circle cx="454.52" cy="332.40" r="2.65"/><circle cx="463.39" cy="332.10" r="2.65"/><circle cx="472.26" cy="331.90" r="2.65"/><circle cx="481.14" cy="331.60" r="2.65"/><circle cx="490.01" cy="331.50" r="2.65"/><circle cx="498.88" cy="331.30" r="2.65"/></g>
<g fill="#0F2FF0"><circle cx="90.70" cy="480.00" r="2.65"/><circle cx="99.57" cy="480.10" r="2.65"/><circle cx="108.45" cy="480.60" r="2.65"/><circle cx="117.32" cy="480.80" r="2.65"/><circle cx="126.19" cy="480.64" r="2.65"/><circle cx="135.07" cy="480.48" r="2.65"/><circle cx="143.94" cy="480.32" r="2.65"/><circle cx="152.81" cy="480.16" r="2.65"/><circle cx="161.69" cy="480.00" r="2.65"/><circle cx="170.56" cy="480.00" r="2.65"/><circle cx="179.44" cy="479.20" r="2.65"/><circle cx="188.31" cy="478.60" r="2.65"/><circle cx="197.18" cy="477.30" r="2.65"/><circle cx="206.06" cy="474.30" r="2.65"/><circle cx="214.93" cy="471.10" r="2.65"/><circle cx="223.80" cy="466.70" r="2.65"/><circle cx="232.68" cy="460.70" r="2.65"/><circle cx="241.55" cy="453.80" r="2.65"/><circle cx="250.42" cy="445.10" r="2.65"/><circle cx="259.30" cy="436.20" r="2.65"/><circle cx="268.17" cy="425.20" r="2.65"/><circle cx="277.05" cy="414.30" r="2.65"/><circle cx="285.92" cy="404.30" r="2.65"/><circle cx="294.79" cy="395.60" r="2.65"/><circle cx="303.67" cy="387.10" r="2.65"/><circle cx="312.54" cy="381.00" r="2.65"/><circle cx="321.41" cy="375.00" r="2.65"/><circle cx="330.29" cy="370.00" r="2.65"/><circle cx="339.16" cy="366.00" r="2.65"/><circle cx="348.03" cy="361.90" r="2.65"/><circle cx="356.91" cy="359.00" r="2.65"/><circle cx="365.78" cy="356.50" r="2.65"/><circle cx="374.65" cy="354.40" r="2.65"/><circle cx="383.53" cy="353.90" r="2.65"/><circle cx="392.40" cy="352.70" r="2.65"/><circle cx="401.28" cy="351.90" r="2.65"/><circle cx="410.15" cy="351.57" r="2.65"/><circle cx="419.02" cy="351.23" r="2.65"/><circle cx="427.90" cy="350.90" r="2.65"/><circle cx="436.77" cy="350.57" r="2.65"/><circle cx="445.64" cy="350.23" r="2.65"/><circle cx="454.52" cy="349.90" r="2.65"/><circle cx="463.39" cy="349.30" r="2.65"/><circle cx="472.26" cy="349.10" r="2.65"/><circle cx="481.14" cy="348.70" r="2.65"/><circle cx="490.01" cy="348.50" r="2.65"/><circle cx="498.88" cy="348.40" r="2.65"/></g>
<g fill="#BE000E"><circle cx="90.70" cy="479.80" r="2.65"/><circle cx="99.57" cy="479.80" r="2.65"/><circle cx="108.45" cy="479.80" r="2.65"/><circle cx="117.32" cy="479.80" r="2.65"/><circle cx="126.19" cy="479.80" r="2.65"/><circle cx="135.07" cy="479.80" r="2.65"/><circle cx="143.94" cy="479.80" r="2.65"/><circle cx="152.81" cy="479.80" r="2.65"/><circle cx="161.69" cy="479.80" r="2.65"/><circle cx="170.56" cy="479.30" r="2.65"/><circle cx="179.44" cy="478.40" r="2.65"/><circle cx="188.31" cy="477.00" r="2.65"/><circle cx="197.18" cy="475.10" r="2.65"/><circle cx="206.06" cy="472.00" r="2.65"/><circle cx="214.93" cy="468.10" r="2.65"/><circle cx="223.80" cy="463.10" r="2.65"/><circle cx="232.68" cy="456.90" r="2.65"/><circle cx="241.55" cy="449.40" r="2.65"/><circle cx="250.42" cy="440.40" r="2.65"/><circle cx="259.30" cy="430.50" r="2.65"/><circle cx="268.17" cy="420.00" r="2.65"/><circle cx="277.05" cy="410.00" r="2.65"/><circle cx="285.92" cy="401.20" r="2.65"/><circle cx="294.79" cy="393.00" r="2.65"/><circle cx="303.67" cy="385.60" r="2.65"/><circle cx="312.54" cy="379.90" r="2.65"/><circle cx="321.41" cy="374.30" r="2.65"/><circle cx="330.29" cy="370.20" r="2.65"/><circle cx="339.16" cy="366.50" r="2.65"/><circle cx="348.03" cy="363.00" r="2.65"/><circle cx="356.91" cy="360.50" r="2.65"/><circle cx="365.78" cy="358.40" r="2.65"/><circle cx="374.65" cy="357.10" r="2.65"/><circle cx="383.53" cy="355.60" r="2.65"/><circle cx="392.40" cy="354.80" r="2.65"/><circle cx="401.28" cy="354.20" r="2.65"/><circle cx="410.15" cy="354.05" r="2.65"/><circle cx="419.02" cy="353.90" r="2.65"/><circle cx="427.90" cy="353.75" r="2.65"/><circle cx="436.77" cy="353.60" r="2.65"/><circle cx="445.64" cy="353.45" r="2.65"/><circle cx="454.52" cy="353.30" r="2.65"/><circle cx="463.39" cy="352.70" r="2.65"/><circle cx="472.26" cy="352.10" r="2.65"/><circle cx="481.14" cy="351.60" r="2.65"/><circle cx="490.01" cy="351.60" r="2.65"/><circle cx="498.88" cy="351.60" r="2.65"/></g>
<circle cx="94.8" cy="538.9" r="2.65" fill="#FF0000"/>
<text x="101.00" y="541.9" font-size="10.8" fill="#404040" textLength="34.12" lengthAdjust="spacingAndGlyphs" stroke="#404040" stroke-width="0.06">Control</text>
<circle cx="150" cy="538.9" r="2.65" fill="#FF9010"/>
<text x="155.08" y="541.9" font-size="10.8" fill="#404040" textLength="33.16" lengthAdjust="spacingAndGlyphs" stroke="#404040" stroke-width="0.06">Mn-PR</text>
<circle cx="201.9" cy="538.9" r="2.65" fill="#E8168B"/>
<text x="207.08" y="541.9" font-size="10.8" fill="#404040" textLength="26.14" lengthAdjust="spacingAndGlyphs" stroke="#404040" stroke-width="0.06">Mn-T</text>
<circle cx="247.1" cy="538.9" r="2.65" fill="#FFC000"/>
<text x="252.98" y="541.9" font-size="10.8" fill="#404040" textLength="25.36" lengthAdjust="spacingAndGlyphs" stroke="#404040" stroke-width="0.06">Ma-P</text>
<circle cx="292.5" cy="538.9" r="2.65" fill="#2E9BD6"/>
<text x="297.54" y="541.9" font-size="10.8" fill="#404040" textLength="25.92" lengthAdjust="spacingAndGlyphs" stroke="#404040" stroke-width="0.06">Ma-B</text>
<circle cx="336.8" cy="538.9" r="2.65" fill="#10D27A"/>
<text x="342.42" y="541.9" font-size="10.8" fill="#404040" textLength="24.26" lengthAdjust="spacingAndGlyphs" stroke="#404040" stroke-width="0.06">Mr-T</text>
<circle cx="380.4" cy="538.9" r="2.65" fill="#0F2FF0"/>
<text x="386.32" y="541.9" font-size="10.8" fill="#404040" textLength="36.28" lengthAdjust="spacingAndGlyphs" stroke="#404040" stroke-width="0.06">Mr-Pr 1</text>
<circle cx="435.7" cy="538.9" r="2.65" fill="#BE000E"/>
<text x="441.54" y="541.9" font-size="10.8" fill="#404040" textLength="36.26" lengthAdjust="spacingAndGlyphs" stroke="#404040" stroke-width="0.06">Mr-Pr 2</text>
</svg></body></html>
